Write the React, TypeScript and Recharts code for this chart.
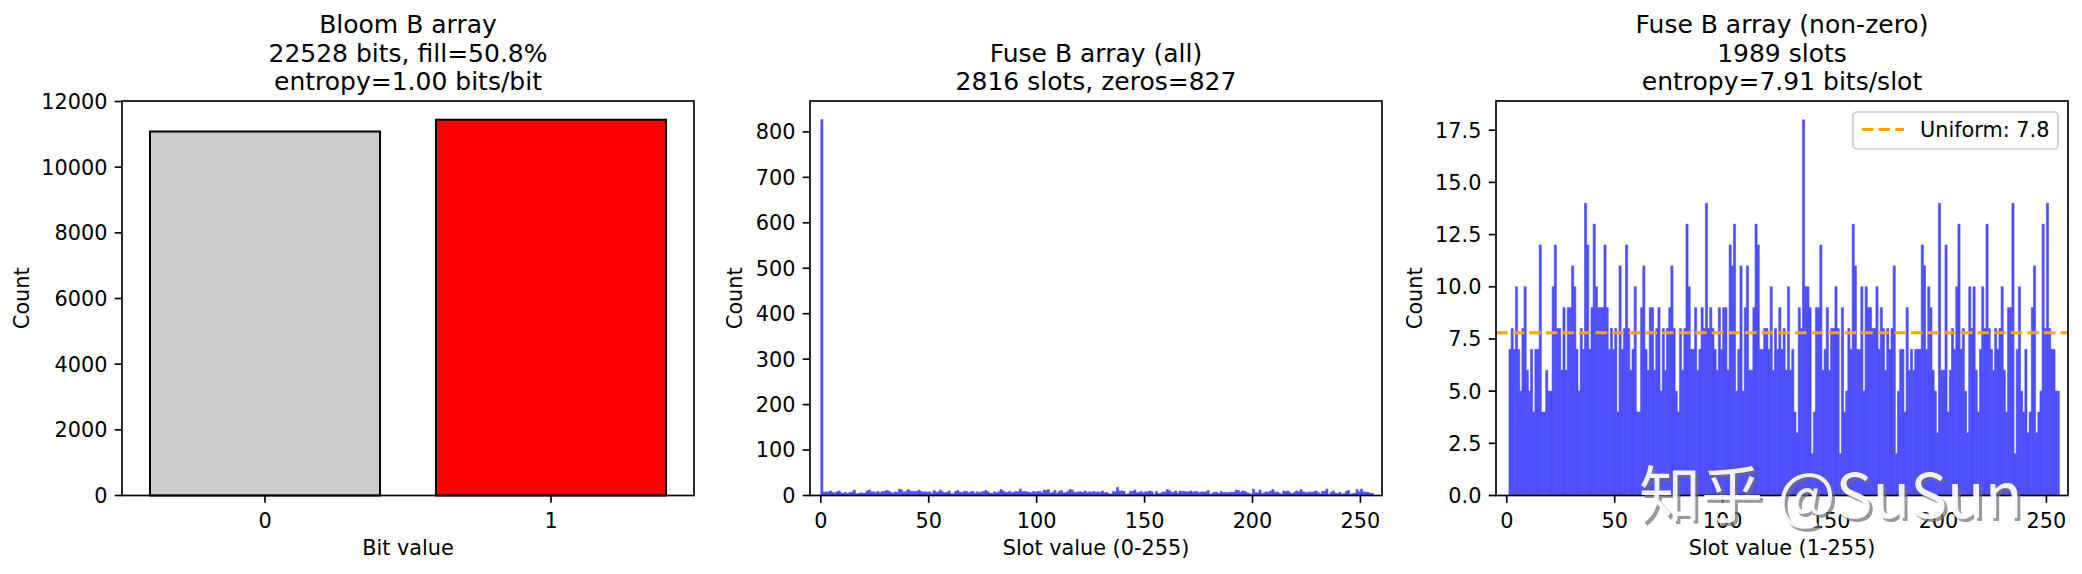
import { BarChart, Bar, Cell, XAxis, YAxis, ReferenceLine } from 'recharts'

// ---- data ----
const bitCategories = ['0', '1']
const bitCounts = [11084, 11444]
const bitColors = ['#cccccc', '#ff0000']
const bloomTicks = [0, 2000, 4000, 6000, 8000, 10000, 12000]

const zeroSlotCount = 827
// counts for slot values 1..255
const nonZeroCounts = [
    7, 8, 7, 10, 7, 5, 8, 10, 6, 5,
    7, 4, 7, 7, 12, 4, 4, 6, 5, 5,
    10, 12, 8, 8, 6, 9, 6, 9, 9, 11,
    10, 7, 5, 8, 7, 14, 12, 7, 9, 13,
    10, 9, 9, 9, 12, 9, 7, 8, 7, 8,
    4, 11, 7, 8, 12, 8, 6, 7, 10, 4,
    4, 9, 11, 7, 6, 9, 9, 6, 8, 9,
    5, 8, 6, 8, 9, 11, 8, 5, 4, 8,
    6, 8, 13, 10, 7, 7, 9, 6, 7, 9,
    8, 14, 8, 9, 8, 7, 6, 9, 7, 9,
    9, 6, 12, 11, 13, 5, 7, 11, 5, 9,
    11, 6, 6, 9, 13, 12, 7, 7, 8, 8,
    7, 10, 6, 8, 7, 9, 7, 8, 6, 10,
    6, 7, 4, 3, 9, 8, 18, 10, 10, 9,
    2, 4, 9, 9, 12, 6, 7, 9, 6, 8,
    8, 10, 8, 2, 9, 4, 5, 8, 7, 13,
    11, 7, 7, 10, 5, 10, 9, 9, 8, 8,
    10, 7, 9, 8, 6, 8, 7, 8, 11, 2,
    5, 7, 7, 4, 9, 6, 7, 6, 7, 7,
    7, 12, 11, 7, 10, 9, 6, 5, 3, 14,
    6, 6, 12, 4, 6, 8, 7, 10, 13, 7,
    8, 5, 3, 10, 8, 10, 6, 4, 7, 10,
    8, 13, 8, 7, 6, 8, 7, 8, 10, 6,
    4, 9, 9, 14, 2, 7, 10, 5, 4, 7,
    3, 4, 9, 11, 3, 4, 5, 13, 8, 14,
    8, 7, 7, 5, 5,
]
const slotTicks = [0, 50, 100, 150, 200, 250]
const allCountTicks = [0, 100, 200, 300, 400, 500, 600, 700, 800]
const nonZeroTicks = [0, 2.5, 5, 7.5, 10, 12.5, 15, 17.5]
const uniformLevel = 7.8

const titles = [
    ['Bloom B array', '22528 bits, fill=50.8%', 'entropy=1.00 bits/bit'],
    ['Fuse B array (all)', '2816 slots, zeros=827'],
    ['Fuse B array (non-zero)', '1989 slots', 'entropy=7.91 bits/slot'],
]
const xLabels = ['Bit value', 'Slot value (0-255)', 'Slot value (1-255)']

// ---- layout ----
const W = 2082
const H = 574
const PLOT_TOP = 101
const PLOT_H = 394.5
const PLOT_W = 572
const Y_AXIS_W = 110
const X_AXIS_H = 40
const RIGHT = 4
const panelLefts = [122, 810, 1496]
const countLabelX = [22, 735, 1415]
const FONT = "'DejaVu Sans', sans-serif"
const BLUE = '#4d4dff'

const bloomRows = bitCategories.map((bit, i) => ({ bit, count: bitCounts[i] }))
const fuseAllRows = [zeroSlotCount, ...nonZeroCounts].map((count, slot) => ({ slot: slot + 0.5, count }))
const fuseNonZeroRows = nonZeroCounts.map((count, i) => ({ slot: i + 1.5, count }))

const tickStyle = { fill: '#000', fontSize: 20.8, fontFamily: FONT }
const tickLine = { stroke: '#000', strokeWidth: 1.67 }
const chartMargin = { top: PLOT_TOP, right: RIGHT, bottom: H - PLOT_TOP - PLOT_H - X_AXIS_H, left: 0 }
const chartW = Y_AXIS_W + PLOT_W + RIGHT

function Panel({ idx, children }: { idx: number; children: React.ReactNode }) {
    return (
        <div style={{ position: 'absolute', left: panelLefts[idx] - Y_AXIS_W, top: 0, width: chartW, height: H }}>
            {children}
        </div>
    )
}

export default function App() {
    return (
        <div style={{ position: 'absolute', left: 0, top: 0, width: W, height: H, background: '#fff', overflow: 'hidden' }}>
            <Panel idx={0}>
                <BarChart width={chartW} height={H} data={bloomRows} margin={chartMargin}>
                    <XAxis dataKey="bit" height={X_AXIS_H} tick={tickStyle} tickLine={tickLine} tickSize={7.3} tickMargin={10} axisLine={false} />
                    <YAxis
                        type="number"
                        domain={[0, 12016]}
                        ticks={bloomTicks}
                        width={Y_AXIS_W}
                        tick={tickStyle}
                        tickLine={tickLine}
                        tickSize={7.3}
                        tickMargin={7.3}
                        axisLine={false}
                        interval={0}
                    />
                    <Bar dataKey="count" barSize={230} stroke="#000" strokeWidth={2} isAnimationActive={false}>
                        {bloomRows.map((r, i) => (
                            <Cell key={`bit-${r.bit}`} fill={bitColors[i]} />
                        ))}
                    </Bar>
                </BarChart>
            </Panel>

            <Panel idx={1}>
                <BarChart width={chartW} height={H} data={fuseAllRows} margin={chartMargin} barCategoryGap={0}>
                    <XAxis
                        dataKey="slot"
                        type="number"
                        domain={[-5, 260]}
                        ticks={slotTicks}
                        interval={0}
                        height={X_AXIS_H}
                        tick={tickStyle}
                        tickLine={tickLine}
                        tickSize={7.3}
                        tickMargin={10}
                        axisLine={false}
                    />
                    <YAxis
                        type="number"
                        domain={[0, 868]}
                        ticks={allCountTicks}
                        width={Y_AXIS_W}
                        tick={tickStyle}
                        tickLine={tickLine}
                        tickSize={7.3}
                        tickMargin={7.3}
                        axisLine={false}
                        interval={0}
                    />
                    <Bar dataKey="count" fill={BLUE} stroke={BLUE} strokeWidth={0.6} barSize={2.15} isAnimationActive={false} />
                </BarChart>
            </Panel>

            <Panel idx={2}>
                <BarChart width={chartW} height={H} data={fuseNonZeroRows} margin={chartMargin} barCategoryGap={0}>
                    <XAxis
                        dataKey="slot"
                        type="number"
                        domain={[-5, 260]}
                        ticks={slotTicks}
                        interval={0}
                        height={X_AXIS_H}
                        tick={tickStyle}
                        tickLine={tickLine}
                        tickSize={7.3}
                        tickMargin={10}
                        axisLine={false}
                    />
                    <YAxis
                        type="number"
                        domain={[0, 18.9]}
                        ticks={nonZeroTicks}
                        tickFormatter={(v: number) => v.toFixed(1)}
                        width={Y_AXIS_W}
                        tick={tickStyle}
                        tickLine={tickLine}
                        tickSize={7.3}
                        tickMargin={7.3}
                        axisLine={false}
                        interval={0}
                    />
                    <Bar dataKey="count" fill={BLUE} stroke={BLUE} strokeWidth={0.6} barSize={2.15} isAnimationActive={false} />
                    <ReferenceLine y={uniformLevel} stroke="#ffa500" strokeWidth={3.1} strokeDasharray="11.6 5" />
                </BarChart>
            </Panel>

            {/* frames, titles, axis labels, legend, watermark */}
            <svg width={W} height={H} style={{ position: 'absolute', left: 0, top: 0, pointerEvents: 'none' }}>
                {panelLefts.map((left, i) => (
                    <g key={`frame-${i}`}>
                        <rect x={left} y={PLOT_TOP} width={PLOT_W} height={PLOT_H} fill="none" stroke="#000" strokeWidth={1.67} />
                        {titles[i].map((line, j) => (
                            <text
                                key={line}
                                x={left + PLOT_W / 2}
                                y={90.3 - (titles[i].length - 1 - j) * 28.5}
                                textAnchor="middle"
                                fontFamily={FONT}
                                fontSize={25}
                                fill="#000"
                            >
                                {line}
                            </text>
                        ))}
                        <text x={left + PLOT_W / 2} y={555} textAnchor="middle" fontFamily={FONT} fontSize={20.8} fill="#000">
                            {xLabels[i]}
                        </text>
                        <text
                            transform={`translate(${countLabelX[i] + 7}, ${PLOT_TOP + PLOT_H / 2}) rotate(-90)`}
                            textAnchor="middle"
                            fontFamily={FONT}
                            fontSize={20.8}
                            fill="#000"
                        >
                            Count
                        </text>
                    </g>
                ))}

                {/* legend */}
                <rect x={1853} y={112} width={205} height={37} rx={4} fill="rgba(255,255,255,0.8)" stroke="#cccccc" strokeWidth={1.67} />
                <line x1={1862} x2={1904} y1={129.5} y2={129.5} stroke="#ffa500" strokeWidth={3.1} strokeDasharray="11.6 5" />
                <text x={1920} y={136.5} fontFamily={FONT} fontSize={20.8} fill="#000">
                    Uniform: {uniformLevel}
                </text>

                {/* watermark */}
                <text x={1642} y={521} fontFamily="'Noto Sans CJK SC', sans-serif" fontSize={62} fill="rgba(110,110,110,0.7)">
                    知乎 @SuSun
                </text>
                <text x={1639} y={518} fontFamily="'Noto Sans CJK SC', sans-serif" fontSize={62} fill="rgba(255,255,255,0.92)">
                    知乎 @SuSun
                </text>
            </svg>
        </div>
    )
}
